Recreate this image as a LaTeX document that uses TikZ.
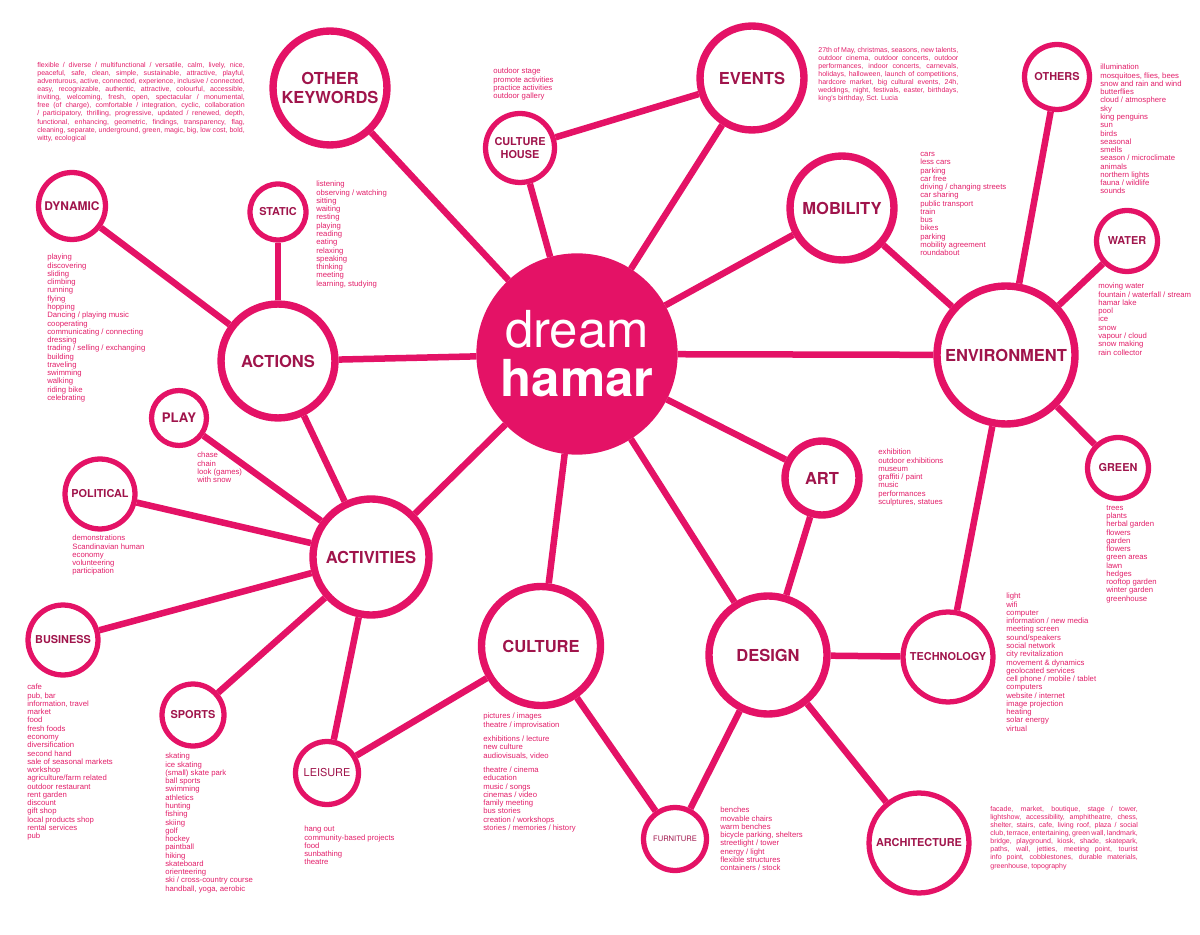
\documentclass[tikz,border=0pt]{standalone}
\usepackage{fontspec}
\setmainfont{TeX Gyre Heros}
\newfontfamily\bodyfont{Liberation Sans}
\definecolor{pk}{RGB}{228,18,102}
\definecolor{lab}{RGB}{160,20,75}
\definecolor{tx}{RGB}{226,30,105}
\begin{document}
\begin{tikzpicture}[x=0.02cm,y=-0.02cm,
  rad/.style={minimum size=#1*0.04cm},
  ring/.style={circle, draw=pk, fill=white, inner sep=0pt, text=lab, align=center},
  big/.style={ring, line width=4.2pt, font=\bfseries\fontsize{9.4}{11.3}\selectfont},
  small/.style={ring, line width=3pt, font=\bfseries\fontsize{6.2}{7}\selectfont},
  link/.style={draw=pk, line width=3.7pt},
  body/.style={anchor=north west, inner sep=0pt, text=tx, align=left, font=\bodyfont\fontsize{4.4}{4.7}\selectfont},
  para/.style={body, text width=#1, align=justify, font=\bodyfont\fontsize{4}{4.6}\selectfont,
    execute at begin node={\hyphenpenalty=10000\exhyphenpenalty=10000\emergencystretch=3em}}
]
\useasboundingbox (0,0) rectangle (1200,935);

% nodes
\node[big, rad=97, fill=pk, text=white, font=\mdseries\fontsize{29}{28}\selectfont] (dh) at (577,354) {dream\\\textbf{hamar}};
\node[big, rad=57] (ok) at (330,88) {OTHER\\KEYWORDS};
\node[small, rad=34.5] (ch) at (520,148) {CULTURE\\HOUSE};
\node[big, rad=52] (ev) at (752,78) {EVENTS};
\node[small, rad=32.5] (ot) at (1057,77) {OTHERS};
\node[big, rad=52] (mo) at (842,208) {MOBILITY};
\node[small, rad=30.5] (wa) at (1127,241) {WATER};
\node[big, rad=69] (en) at (1006,355) {ENVIRONMENT};
\node[small, rad=30.5] (gr) at (1118,468) {GREEN};
\node[big, rad=37] (ar) at (822,478) {ART};
\node[small, rad=33.5, font=\bfseries\fontsize{6.8}{8}\selectfont] (dy) at (72,206) {DYNAMIC};
\node[small, rad=28] (st) at (278,212) {STATIC};
\node[big, rad=57] (ac) at (278,361) {ACTIONS};
\node[small, rad=27.5, font=\bfseries\fontsize{7.5}{8}\selectfont] (pl) at (179,418) {PLAY};
\node[small, rad=35] (po) at (100,494) {POLITICAL};
\node[big, rad=58] (av) at (371,557) {ACTIVITIES};
\node[small, rad=35] (bu) at (63,640) {BUSINESS};
\node[small, rad=31] (sp) at (193,715) {SPORTS};
\node[small, rad=31.5, font=\mdseries\fontsize{6.2}{7}\selectfont] (le) at (327,773) {LEISURE};
\node[big, rad=59.5] (cu) at (541,646) {CULTURE};
\node[big, rad=59] (de) at (768,655) {DESIGN};
\node[small, rad=45] (te) at (948,657) {TECHNOLOGY};
\node[small, rad=31.5, font=\mdseries\fontsize{4.3}{5}\selectfont] (fu) at (675,839) {FURNITURE};
\node[small, rad=50] (ah) at (919,843) {ARCHITECTURE};

% connectors
\foreach \a/\b in {dh/ok, dh/ch, dh/ev, ch/ev, dh/mo, dh/en, mo/en, ot/en, wa/en, gr/en, en/te,
  dh/ar, dh/de, ar/de, de/te, de/ah, de/fu, cu/fu, dh/cu, dh/av, dh/ac, ac/dy, ac/st, ac/av,
  pl/av, po/av, bu/av, sp/av, le/av, le/cu}
  \draw[link] (\a) -- (\b);

% text blocks
\node[para=4.15cm] (tok) at (37,62) {flexible / diverse / multifunctional / versatile, calm, lively, nice, peaceful, safe, clean, simple, sustainable, attractive, playful, adventurous, active, connected, experience, inclusive / connected, easy, recognizable, authentic, attractive, colourful, accessible, inviting, welcoming, fresh, open, spectacular / monumental, free (of charge), comfortable / integration, cyclic, collaboration / participatory, thrilling, progressive, updated / renewed, depth, functional, enhancing, geometric, findings, transparency, flag, cleaning, separate, underground, green, magic, big, low cost, bold, witty, ecological};
\node[body] (tch) at (493,68) {outdoor stage\\promote activities\\practice activities\\outdoor gallery};
\node[para=2.8cm] (tev) at (818,47) {27th of May, christmas, seasons, new talents, outdoor cinema, outdoor concerts, outdoor performances, indoor concerts, carnevals, holidays, halloween, launch of competitions, hardcore market, big cultural events, 24h, weddings, night, festivals, easter, birthdays, king's birthday, Sct. Lucia};
\node[body] (tot) at (1100,64) {illumination\\mosquitoes, flies, bees\\snow and rain and wind\\butterflies\\cloud / atmosphere\\sky\\king penguins\\sun\\birds\\seasonal\\smells\\season / microclimate\\animals\\northern lights\\fauna / wildlife\\sounds};
\node[body] (tmo) at (920,152) {cars\\less cars\\parking\\car free\\driving / changing streets\\car sharing\\public transport\\train\\bus\\bikes\\parking\\mobility agreement\\roundabout};
\node[body] (twa) at (1098,283) {moving water\\fountain / waterfall / stream\\hamar lake\\pool\\ice\\snow\\vapour / cloud\\snow making\\rain collector};
\node[body] (tst) at (316,181) {listening\\observing / watching\\sitting\\waiting\\resting\\playing\\reading\\eating\\relaxing\\speaking\\thinking\\meeting\\learning, studying};
\node[body] (tdy) at (47,254) {playing\\discovering\\sliding\\climbing\\running\\flying\\hopping\\Dancing / playing music\\cooperating\\communicating / connecting\\dressing\\trading / selling / exchanging\\building\\traveling\\swimming\\walking\\riding bike\\celebrating};
\node[body] (tpl) at (197,452) {chase\\chain\\look (games)\\with snow};
\node[body] (tpo) at (72,535) {demonstrations\\Scandinavian human\\economy\\volunteering\\participation};
\node[body] (tbu) at (27,684) {cafe\\pub, bar\\information, travel\\market\\food\\fresh foods\\economy\\diversification\\second hand\\sale of seasonal markets\\workshop\\agriculture/farm related\\outdoor restaurant\\rent garden\\discount\\gift shop\\local products shop\\rental services\\pub};
\node[body] (tsp) at (165,753) {skating\\ice skating\\(small) skate park\\ball sports\\swimming\\athletics\\hunting\\fishing\\skiing\\golf\\hockey\\paintball\\hiking\\skateboard\\orienteering\\ski / cross-country course\\handball, yoga, aerobic};
\node[body] (tle) at (304,826) {hang out\\community-based projects\\food\\sunbathing\\theatre};
\node[body] (tcu) at (483,713) {pictures / images\\theatre / improvisation\\[3.5pt]exhibitions / lecture\\new culture\\audiovisuals, video\\[3.5pt]theatre / cinema\\education\\music / songs\\cinemas / video\\family meeting\\bus stories\\creation / workshops\\stories / memories / history};
\node[body] (tar) at (878,449) {exhibition\\outdoor exhibitions\\museum\\graffiti / paint\\music\\performances\\sculptures, statues};
\node[body] (tgr) at (1106,505) {trees\\plants\\herbal garden\\flowers\\garden\\flowers\\green areas\\lawn\\hedges\\rooftop garden\\winter garden\\greenhouse};
\node[body] (tte) at (1006,593) {light\\wifi\\computer\\information / new media\\meeting screen\\sound/speakers\\social network\\city revitalization\\movement \& dynamics\\geolocated services\\cell phone / mobile / tablet\\computers\\website / internet\\image projection\\heating\\solar energy\\virtual};
\node[body] (tfu) at (720,807) {benches\\movable chairs\\warm benches\\bicycle parking, shelters\\streetlight / tower\\energy / light\\flexible structures\\containers / stock};
\node[para=2.95cm] (tah) at (990,806) {facade, market, boutique, stage / tower, lightshow, accessibility, amphitheatre, chess, shelter, stairs, cafe, living roof, plaza / social club, terrace, entertaining, green wall, landmark, bridge, playground, kiosk, shade, skatepark, paths, wall, jetties, meeting point, tourist info point, cobblestones, durable materials, greenhouse, topography};
\end{tikzpicture}
\end{document}
